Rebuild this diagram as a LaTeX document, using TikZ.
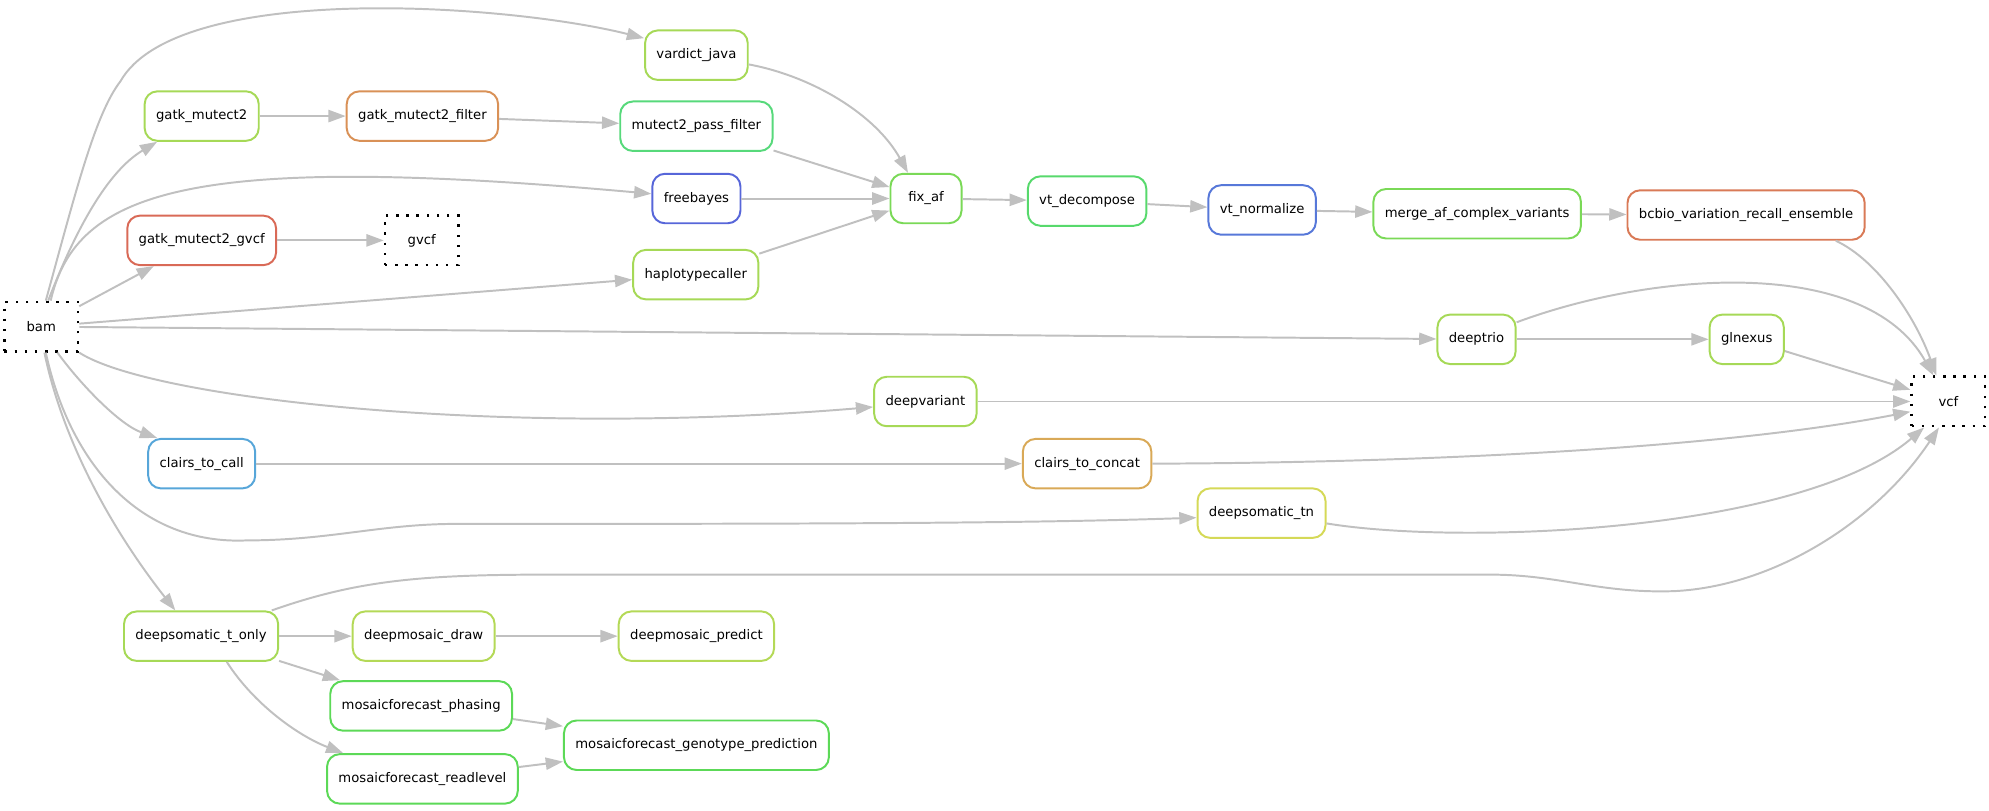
\documentclass[tikz,border=0pt]{standalone}
\usepackage{fontspec}
\setmainfont{DejaVu Sans}
\usetikzlibrary{arrows.meta}
\definecolor{edge}{HTML}{C0C0C0}
\definecolor{yg}{HTML}{A6D957}
\definecolor{yg-light}{HTML}{B4D957}
\definecolor{lime}{HTML}{7AD957}
\definecolor{green}{HTML}{57D96C}
\definecolor{mint}{HTML}{57D97B}
\definecolor{leaf}{HTML}{5CD957}
\definecolor{blue}{HTML}{5766D9}
\definecolor{blue-soft}{HTML}{5778D9}
\definecolor{sky}{HTML}{57A6D9}
\definecolor{orange}{HTML}{D99157}
\definecolor{amber}{HTML}{D9A957}
\definecolor{rust}{HTML}{D97A57}
\definecolor{brick}{HTML}{D96A57}
\definecolor{mustard}{HTML}{D5D957}
\tikzset{
  job/.style={
    rectangle, rounded corners=0.25cm, draw=#1, line width=1.1pt, fill=white,
    minimum width=1.4cm, minimum height=0.975cm, inner xsep=0.225cm, inner ysep=0pt,
    font=\fontsize{7.4pt}{9pt}\selectfont
  },
  io/.style={
    rectangle, draw=black, line width=1.4pt, dash pattern=on 1.4pt off 4.3pt,
    minimum width=1.45cm, minimum height=0.975cm, inner sep=0pt,
    font=\fontsize{7.4pt}{9pt}\selectfont
  },
  dep/.style={draw=edge, line width=1.1pt, -{Triangle[length=0.34cm, width=0.24cm]}}
}

\begin{document}
\begin{tikzpicture}[x=0.025cm, y=-0.025cm]
  \useasboundingbox (0,0) rectangle (1568,639);

  % ---- Nodes ---------------------------------------------------------------
  \node[job=yg]        (vardict)      at (549,43.5)    {vardict\_java};
  \node[job=yg]        (mutect)       at (159,91.5)    {gatk\_mutect2};
  \node[job=orange]    (mfilter)      at (333,91.5)    {gatk\_mutect2\_filter};
  \node[job=mint]      (passfilt)     at (549,99.5)    {mutect2\_pass\_filter};
  \node[job=blue]      (freebayes)    at (549,156.5)   {freebayes};
  \node[job=lime]      (fixaf)        at (730,156.5)   {fix\_af};
  \node[job=green]     (vtdec)        at (857,158.5)   {vt\_decompose};
  \node[job=blue-soft] (vtnorm)       at (995,165.5)   {vt\_normalize};
  \node[job=lime]      (mergeaf)      at (1164.5,168.5) {merge\_af\_complex\_variants};
  \node[job=rust]      (ensemble)     at (1376.5,169.5) {bcbio\_variation\_recall\_ensemble};
  \node[job=brick]     (mutectgvcf)   at (159,189.5)   {gatk\_mutect2\_gvcf};
  \node[io]            (gvcf)         at (332.5,189.5) {gvcf};
  \node[job=yg]        (haplo)        at (548.5,216.5) {haplotypecaller};
  \node[io]            (bam)          at (32.5,257.5)  {bam};
  \node[job=yg]        (deeptrio)     at (1164,267.5)  {deeptrio};
  \node[job=yg]        (glnexus)      at (1377,267.5)  {glnexus};
  \node[io]            (vcf)          at (1536,316.5)  {vcf};
  \node[job=yg]        (deepvar)      at (729.5,316.5) {deepvariant};
  \node[job=sky]       (clairscall)   at (159,365.5)   {clairs\_to\_call};
  \node[job=amber]     (clairsconcat) at (857,365.5)   {clairs\_to\_concat};
  \node[job=mustard]   (dstn)         at (994.5,404.5) {deepsomatic\_tn};
  \node[job=yg]        (dstonly)      at (158.5,501.5) {deepsomatic\_t\_only};
  \node[job=yg-light]  (dmdraw)       at (334,501.5)   {deepmosaic\_draw};
  \node[job=yg-light]  (dmpredict)    at (549,501.5)   {deepmosaic\_predict};
  \node[job=leaf]      (mfphase)      at (332,556.5)   {mosaicforecast\_phasing};
  \node[job=leaf]      (mfgeno)       at (549,587.5)   {mosaicforecast\_genotype\_prediction};
  \node[job=leaf]      (mfread)       at (333,614)     {mosaicforecast\_readlevel};

  % ---- Edges out of bam ----------------------------------------------------
  \draw[dep] (bam.80) .. controls (60,150) and (75,90) .. (95,64)
             .. controls (140,-15) and (400,3) .. (vardict.162);
  \draw[dep] (bam.75) .. controls (60,180) and (85,135) .. (mutect.210);
  \draw[dep] (bam.70) .. controls (60,150) and (150,120) .. (freebayes.174);
  \draw[dep] (bam) -- (mutectgvcf);
  \draw[dep] (bam) -- (haplo);
  \draw[dep] (bam) -- (deeptrio);
  \draw[dep] (bam.south east) .. controls (120,315) and (400,345) .. (deepvar.186);
  \draw[dep] (bam.-58) .. controls (65,305) and (95,335) .. (clairscall.150);
  \draw[dep] (bam.-80) .. controls (55,365) and (110,430) .. (195,426)
             .. controls (260,426) and (300,413) .. (360,413)
             .. controls (600,413) and (800,413) .. (dstn.184);
  \draw[dep] (bam.-83) .. controls (50,350) and (90,420) .. (dstonly.135);

  % ---- Edges into fix_af and the normalise chain ---------------------------
  \draw[dep] (mutect) -- (mfilter);
  \draw[dep] (mfilter) -- (passfilt);
  \draw[dep] (passfilt) -- (fixaf);
  \draw[dep] (vardict.-10) .. controls (640,60) and (690,90) .. (fixaf.125);
  \draw[dep] (freebayes) -- (fixaf);
  \draw[dep] (haplo) -- (fixaf);
  \draw[dep] (mutectgvcf) -- (gvcf);
  \draw[dep] (fixaf) -- (vtdec);
  \draw[dep] (vtdec) -- (vtnorm);
  \draw[dep] (vtnorm) -- (mergeaf);
  \draw[dep] (mergeaf) -- (ensemble);

  % ---- Edges into vcf ------------------------------------------------------
  \draw[dep] (ensemble.-16) .. controls (1480,205) and (1510,250) .. (vcf.115);
  \draw[dep] (deeptrio.23) .. controls (1300,215) and (1470,200) .. (vcf.120);
  \draw[dep] (deeptrio) -- (glnexus);
  \draw[dep] (glnexus) -- (vcf);
  \draw[dep] (deepvar) -- (vcf);
  \draw[dep] (clairscall) -- (clairsconcat);
  \draw[dep] (clairsconcat.east) .. controls (1100,365) and (1350,355) .. (vcf.195);
  \draw[dep] (dstn.-9) .. controls (1150,430) and (1420,420) .. (vcf.227);
  \draw[dep] (dstonly.20) .. controls (280,458) and (330,453) .. (430,453) -- (1175,453)
             .. controls (1230,453) and (1260,468) .. (1320,466)
             .. controls (1400,462) and (1480,410) .. (vcf.250);

  % ---- Mosaic branch -------------------------------------------------------
  \draw[dep] (dstonly) -- (dmdraw);
  \draw[dep] (dmdraw) -- (dmpredict);
  \draw[dep] (dstonly) -- (mfphase);
  \draw[dep] (dstonly.-45) .. controls (200,555) and (235,580) .. (mfread.162);
  \draw[dep] (mfphase) -- (mfgeno);
  \draw[dep] (mfread) -- (mfgeno);

\end{tikzpicture}
\end{document}
